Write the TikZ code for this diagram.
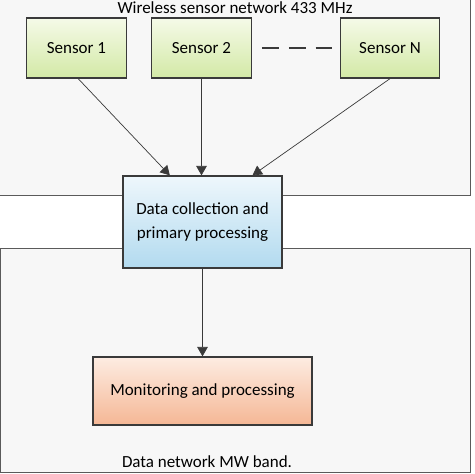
\documentclass[tikz,border=0pt]{standalone}
\usepackage{fontspec}
\setmainfont{Carlito}
\usepackage{tikz}
\usetikzlibrary{shapes,arrows,arrows.meta,positioning,calc}
\usepackage{xcolor}
\definecolor{frameline}{HTML}{5A5A5A}
\definecolor{framefill}{HTML}{F7F7F7}
\definecolor{boxline}{HTML}{3A3A3A}
\definecolor{greentop}{HTML}{F5FAE8}
\definecolor{greenbot}{HTML}{D3E9A6}
\definecolor{bluetop}{HTML}{EEF7FC}
\definecolor{bluebot}{HTML}{B2DAEF}
\definecolor{orangetop}{HTML}{FDECE2}
\definecolor{orangebot}{HTML}{F5B795}
\tikzset{
  sensorbox/.style={draw=boxline, line width=1.1pt, top color=greentop, bottom color=greenbot,
    minimum width=2.98cm, minimum height=1.8cm, font=\fontsize{14.5}{17}\selectfont},
  group/.style={draw=frameline, line width=0.8pt, fill=framefill},
  link/.style={draw=boxline, line width=0.6pt, -{Triangle[length=8pt,width=9pt]}}
}

\begin{document}
\begin{tikzpicture}[x=0.03cm,y=-0.03cm]
  \useasboundingbox (0,0) rectangle (474,474);
  \clip (0,0) rectangle (474,474);
  % frames
  \draw[group] (-2,-20) rectangle (470,195);
  \draw[group] (0,248) rectangle (470,472);
  \node[font=\fontsize{14.5}{17}\selectfont, inner sep=1pt, anchor=north] (wsn) at (235,0.5) {Wireless sensor network 433 MHz};
  \node[font=\fontsize{14.5}{17}\selectfont] (dnet) at (207,462) {Data network MW band.};
  % sensors
  \node[sensorbox] (s1) at (76.5,48) {Sensor 1};
  \node[sensorbox] (s2) at (201.5,48) {Sensor 2};
  \node[sensorbox] (sn) at (390,48) {Sensor N};
  \draw[boxline, line width=1.1pt, dash pattern=on 14.5pt off 8.5pt,
    shorten <=0.3cm, shorten >=0.24cm] (s2) -- (sn);
  % processing
  \node[draw=boxline, line width=1.1pt, top color=bluetop, bottom color=bluebot,
    minimum width=4.77cm, minimum height=2.76cm, align=center,
    font=\fontsize{14.5}{20}\selectfont] (dc) at (202.5,222)
    {Data collection and\\primary processing};
  \node[draw=boxline, line width=1.1pt, top color=orangetop, bottom color=orangebot,
    minimum width=6.57cm, minimum height=2.04cm,
    font=\fontsize{14.5}{17}\selectfont] (mon) at (202.5,391) {Monitoring and processing};
  % links
  \coordinate (in1) at ([xshift=-0.98cm]dc.north);
  \coordinate (inn) at ([xshift=1.5cm]dc.north);
  \draw[link] ([xshift=0.05cm]s1.south) -- (in1);
  \draw[link] (s2.south) -- (s2.south |- dc.north);
  \draw[link] (sn.south) -- (inn);
  \draw[link] (dc.south) -- (mon.north);
\end{tikzpicture}
\end{document}
